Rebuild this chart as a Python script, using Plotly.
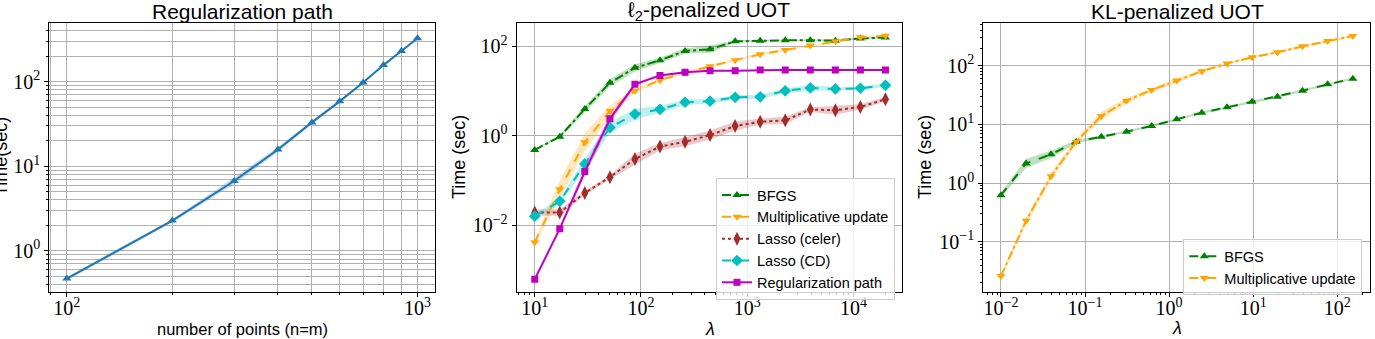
import plotly.graph_objects as go

# ---------------- data ----------------
# Panel 1: Regularization path
n_points = [100, 200, 300, 400, 500, 600, 700, 800, 900, 1000]
regpath_time = [0.47, 2.28, 6.7, 15.8, 33, 58.5, 98, 157, 231, 326]
regpath_spread = [0.02, 0.02, 0.04, 0.03, 0.02, 0.015, 0.01, 0.01, 0.01, 0.01]

# Panel 2: l2-penalized UOT
lam_l2 = [10, 17.2, 29.6, 51, 87.7, 151, 260, 447, 770, 1325, 2280, 3925, 6757, 11630, 20020]
l2_bfgs = [0.48, 0.95, 3.95, 15.2, 33, 48.6, 78.7, 86, 129, 134, 136, 137, 134, 150, 157]
l2_mult = [0.0041, 0.063, 0.71, 3.6, 10.1, 17.4, 25.7, 36, 49, 66, 83, 104, 129, 159, 172]
l2_celer = [0.019, 0.019, 0.052, 0.118, 0.3, 0.57, 0.73, 1.03, 1.65, 2.05, 2.2, 3.85, 3.7, 4.4, 6.5]
l2_cd = [0.0158, 0.034, 0.233, 1.52, 3.05, 3.89, 5.6, 5.9, 7.2, 7.4, 10.1, 11.7, 11.1, 11.5, 13.4]
l2_reg = [0.00061, 0.0083, 0.157, 2.38, 14.1, 22.3, 26.2, 28.3, 28.5, 29.5, 29.5, 29.5, 29.5, 29.5, 29.5]
l2_bfgs_spread = [0.02, 0.03, 0.07, 0.08, 0.08, 0.06, 0.06, 0.08, 0.03, 0.02, 0.02, 0.02, 0.03, 0.02, 0.02]
l2_mult_spread = [0.05, 0.2, 0.2, 0.12, 0.05, 0.04, 0.03, 0.03, 0.03, 0.03, 0.03, 0.02, 0.02, 0.02, 0.02]
l2_celer_spread = [0.07, 0.07, 0.05, 0.05, 0.12, 0.08, 0.1, 0.1, 0.1, 0.07, 0.08, 0.05, 0.1, 0.06, 0.05]
l2_cd_spread = [0.05, 0.07, 0.12, 0.12, 0.12, 0.08, 0.06, 0.05, 0.05, 0.05, 0.05, 0.07, 0.04, 0.04, 0.04]
l2_reg_spread = [0.02, 0.02, 0.12, 0.1, 0.04, 0.02, 0.01, 0.01, 0.01, 0.01, 0.01, 0.01, 0.01, 0.01, 0.01]

# Panel 3: KL-penalized UOT
lam_kl = [0.01, 0.0199, 0.0394, 0.0785, 0.156, 0.311, 0.619, 1.23, 2.45, 4.88, 9.7, 19.4, 38.6, 76.8, 153]
kl_bfgs = [0.62, 2.16, 3.08, 5.07, 6.17, 7.5, 9.4, 12.2, 15.8, 19.5, 24.3, 29.6, 37.5, 48, 60]
kl_mult = [0.026, 0.228, 1.31, 5.07, 13.9, 25.3, 38.5, 56, 80, 109, 139, 169, 214, 263, 320]
kl_bfgs_spread = [0.04, 0.08, 0.06, 0.03, 0.02, 0.02, 0.02, 0.02, 0.02, 0.02, 0.02, 0.02, 0.02, 0.02, 0.02]
kl_mult_spread = [0.04, 0.06, 0.06, 0.05, 0.07, 0.05, 0.04, 0.04, 0.03, 0.02, 0.02, 0.02, 0.02, 0.02, 0.02]

# tick labels
tick_p1x = [100, 1000]; tick_p1x_text = ["10<sup>2</sup>", "10<sup>3</sup>"]
tick_p1y = [1, 10, 100]; tick_p1y_text = ["10<sup>0</sup>", "10<sup>1</sup>", "10<sup>2</sup>"]
tick_p2x = [10, 100, 1000, 10000]; tick_p2x_text = ["10<sup>1</sup>", "10<sup>2</sup>", "10<sup>3</sup>", "10<sup>4</sup>"]
tick_p2y = [0.01, 1, 100]; tick_p2y_text = ["10<sup>\u22122</sup>", "10<sup>0</sup>", "10<sup>2</sup>"]
tick_p3x = [0.01, 0.1, 1, 10, 100]; tick_p3x_text = ["10<sup>\u22122</sup>", "10<sup>\u22121</sup>", "10<sup>0</sup>", "10<sup>1</sup>", "10<sup>2</sup>"]
tick_p3y = [0.1, 1, 10, 100]; tick_p3y_text = ["10<sup>\u22121</sup>", "10<sup>0</sup>", "10<sup>1</sup>", "10<sup>2</sup>"]

# ---------------- figure ----------------
W, H = 1375, 339
def px(x): return x / W
def py(y): return 1 - y / H

def minor_vals(d0, d1):
    out = []
    for d in range(d0, d1):
        for m in range(2, 10):
            out.append(m * 10 ** d)
    return out

fig = go.Figure()

def add_band(xs, ys, spread, color, xa, ya):
    hi = [v * 10 ** s for v, s in zip(ys, spread)]
    lo = [v / 10 ** s for v, s in zip(ys, spread)]
    fig.add_trace(go.Scatter(x=list(xs) + list(xs)[::-1], y=hi + lo[::-1], fill="toself",
                             fillcolor=color, line=dict(width=0), mode="lines", hoverinfo="skip",
                             showlegend=False, xaxis=xa, yaxis=ya))

def add_line(xs, ys, name, color, dash, symbol, xa, ya, legend=None, show=True, msize=8):
    fig.add_trace(go.Scatter(x=xs, y=ys, name=name, mode="lines+markers",
                             line=dict(color=color, width=2, dash=dash),
                             marker=dict(symbol=symbol, size=msize, color=color),
                             showlegend=show, legend=legend, xaxis=xa, yaxis=ya))

# Panel 1
add_band(n_points, regpath_time, regpath_spread, "rgba(31,119,180,0.25)", "x", "y")
add_line(n_points, regpath_time, "Regularization path", "#1f77b4", "solid", "triangle-up", "x", "y", show=False)

# Panel 2
GREEN, ORANGE, BROWN, CYAN, MAG = "#008000", "#FFA500", "#A52A2A", "#00BFBF", "#BF00BF"
def rgba(h, a):
    h = h.lstrip("#")
    return "rgba(%d,%d,%d,%s)" % (int(h[0:2], 16), int(h[2:4], 16), int(h[4:6], 16), a)

add_band(lam_l2, l2_bfgs, l2_bfgs_spread, rgba(GREEN, 0.25), "x2", "y2")
add_band(lam_l2, l2_mult, l2_mult_spread, rgba(ORANGE, 0.25), "x2", "y2")
add_band(lam_l2, l2_celer, l2_celer_spread, rgba(BROWN, 0.25), "x2", "y2")
add_band(lam_l2, l2_cd, l2_cd_spread, rgba(CYAN, 0.25), "x2", "y2")
add_band(lam_l2, l2_reg, l2_reg_spread, rgba(MAG, 0.25), "x2", "y2")
add_line(lam_l2, l2_bfgs, "BFGS", GREEN, "dashdot", "triangle-up", "x2", "y2", legend="legend")
add_line(lam_l2, l2_mult, "Multiplicative update", ORANGE, "dash", "triangle-down", "x2", "y2", legend="legend")
add_line(lam_l2, l2_celer, "Lasso (celer)", BROWN, "dot", "diamond-tall", "x2", "y2", legend="legend", msize=10)
add_line(lam_l2, l2_cd, "Lasso (CD)", CYAN, "dash", "diamond", "x2", "y2", legend="legend", msize=9)
add_line(lam_l2, l2_reg, "Regularization path", MAG, "solid", "square", "x2", "y2", legend="legend", msize=7)

# Panel 3
add_band(lam_kl, kl_bfgs, kl_bfgs_spread, rgba(GREEN, 0.25), "x3", "y3")
add_band(lam_kl, kl_mult, kl_mult_spread, rgba(ORANGE, 0.25), "x3", "y3")
add_line(lam_kl, kl_bfgs, "BFGS", GREEN, "dash", "triangle-up", "x3", "y3", legend="legend2")
add_line(lam_kl, kl_mult, "Multiplicative update", ORANGE, "dashdot", "triangle-down", "x3", "y3", legend="legend2")

TICKFONT = dict(family="Liberation Serif", size=20, color="black")
GRID = "#b0b0b0"
ydom = [py(292.3), py(23.3)]

def axis(domain, rng, tv, tt, minor=None, minor_grid=False, anchor=None, is_x=False):
    d = dict(type="log", domain=domain, range=rng, tickmode="array", tickvals=tv, ticktext=tt,
             showline=True, mirror=True, linecolor="black", linewidth=1.2,
             ticks="outside", ticklen=4, tickcolor="black", tickfont=TICKFONT,
             showgrid=True, gridcolor=GRID, gridwidth=1, zeroline=False, anchor=anchor)
    if is_x:
        d["ticklabelstandoff"] = -6
    if minor is not None:
        d["minor"] = dict(tickmode="array", tickvals=minor, ticks="outside", ticklen=2,
                          tickcolor="black", showgrid=minor_grid, gridcolor=GRID, gridwidth=1)
    return d

LEGFONT = dict(family="Liberation Sans", size=14.5, color="black")
fig.update_layout(
    width=W, height=H, margin=dict(l=0, r=0, t=0, b=0, pad=0),
    plot_bgcolor="white", paper_bgcolor="white",
    xaxis=axis([px(49.3), px(435)], [1.95, 3.05], tick_p1x, tick_p1x_text, minor_vals(1, 4), True, "y", True),
    yaxis=axis(ydom, [-0.49, 2.69], tick_p1y, tick_p1y_text, minor_vals(-1, 3), True, "x"),
    xaxis2=axis([px(516.7), px(902.3)], [0.83, 4.46], tick_p2x, tick_p2x_text, minor_vals(0, 5), False, "y2", True),
    yaxis2=axis(ydom, [-3.506, 2.515], tick_p2y, tick_p2y_text, None, False, "x2"),
    xaxis3=axis([px(983.3), px(1370)], [-2.21, 2.389], tick_p3x, tick_p3x_text, minor_vals(-3, 3), False, "y3", True),
    yaxis3=axis(ydom, [-1.862, 2.722], tick_p3y, tick_p3y_text, minor_vals(-2, 3), False, "x3"),
    legend=dict(x=px(895), y=py(178), xanchor="right", yanchor="top", itemwidth=30,
                bgcolor="rgba(255,255,255,0.8)", bordercolor="#cccccc", borderwidth=1,
                font=LEGFONT, tracegroupgap=0),
    legend2=dict(x=px(1362.3), y=py(239.3), xanchor="right", yanchor="top", itemwidth=30,
                 bgcolor="rgba(255,255,255,0.8)", bordercolor="#cccccc", borderwidth=1,
                 font=LEGFONT, tracegroupgap=0),
    showlegend=True,
)

SANS = "Liberation Sans"
annots = [
    dict(text="Regularization path", x=px(242), y=py(11), size=21, angle=0),
    dict(text="\u2113<sub>2</sub>-penalized UOT", x=px(709), y=py(11), size=21, angle=0),
    dict(text="KL-penalized UOT", x=px(1177), y=py(11), size=21, angle=0),
    dict(text="number of points (n=m)", x=px(242), y=py(329), size=16.5, angle=0),
    dict(text="<i>\u03bb</i>", x=px(710), y=py(329), size=18, angle=0),
    dict(text="<i>\u03bb</i>", x=px(1177), y=py(328), size=18, angle=0),
    dict(text="Time(sec)", x=px(1), y=py(157), size=18, angle=-90),
    dict(text="Time (sec)", x=px(459), y=py(157), size=18, angle=-90),
    dict(text="Time (sec)", x=px(925), y=py(157), size=18, angle=-90),
]
for a in annots:
    fig.add_annotation(text=a["text"], x=a["x"], y=a["y"], xref="paper", yref="paper",
                       xanchor="center", yanchor="middle", showarrow=False, textangle=a["angle"],
                       font=dict(family=SANS, size=a["size"], color="black"))

# remove the browser's default 8px page margin so the figure starts at the window corner
fig.write_html("out.html", config={"displayModeBar": False},
               post_script="document.body.style.margin='0';")
